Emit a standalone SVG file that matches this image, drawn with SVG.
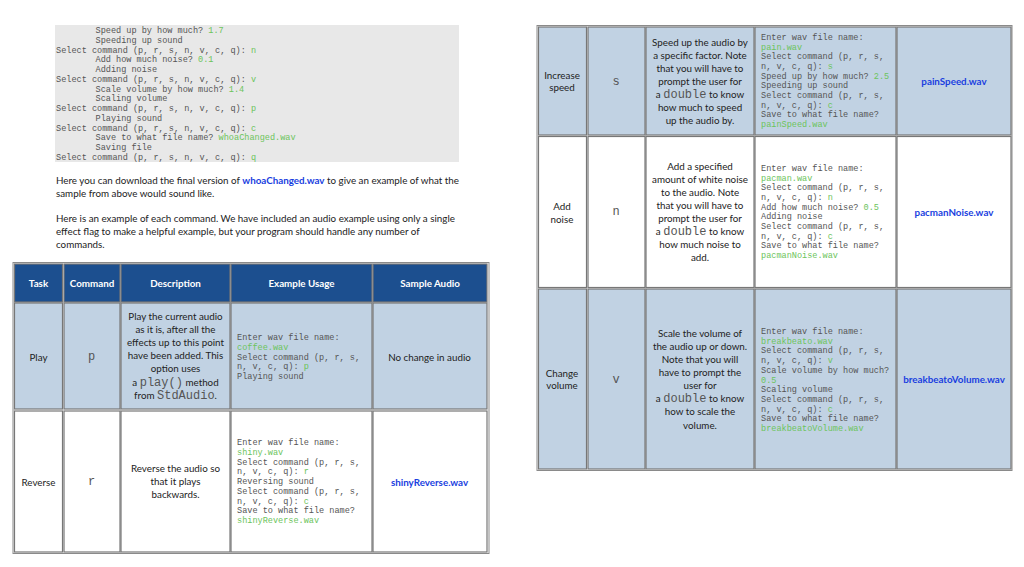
<svg xmlns="http://www.w3.org/2000/svg" width="1024" height="567" viewBox="0 0 1024 567">
<style>
text{font-family:"Lato","Open Sans",sans-serif;font-size:9.8px;fill:#222}
.m{font-family:"Liberation Mono",monospace;font-size:8.55px;fill:#555}
.g{fill:#6cc45c}
.c{text-anchor:middle}
.cm{font-family:"Liberation Mono",monospace;font-size:12px;fill:#555}
.l{fill:#1a3fe0;font-weight:700}
.h{fill:#fff;font-weight:700;text-anchor:middle}
.o{fill:none;stroke:#8a8a8a;stroke-width:1}
.b{fill:#c1d2e3;stroke:#777;stroke-width:1.2}
.w{fill:#fff;stroke:#777;stroke-width:1.2}
.d{fill:#1c4f8f;stroke:#777;stroke-width:1.2}
</style>
<rect width="1024" height="567" fill="#fff"/>
<g id="console">
<rect x="55" y="25" width="404" height="137" fill="#e8e8e8"/>
<text class="m" xml:space="preserve"><tspan x="95.5" y="33">Speed up by how much? <tspan class="g">1.7</tspan></tspan><tspan x="95.5" y="42.8">Speeding up sound</tspan><tspan x="56" y="52.5">Select command (p, r, s, n, v, c, q): <tspan class="g">n</tspan></tspan><tspan x="95.5" y="62.3">Add how much noise? <tspan class="g">0.1</tspan></tspan><tspan x="95.5" y="72">Adding noise</tspan><tspan x="56" y="81.8">Select command (p, r, s, n, v, c, q): <tspan class="g">v</tspan></tspan><tspan x="95.5" y="91.6">Scale volume by how much? <tspan class="g">1.4</tspan></tspan><tspan x="95.5" y="101.3">Scaling volume</tspan><tspan x="56" y="111.1">Select command (p, r, s, n, v, c, q): <tspan class="g">p</tspan></tspan><tspan x="95.5" y="120.9">Playing sound</tspan><tspan x="56" y="130.6">Select command (p, r, s, n, v, c, q): <tspan class="g">c</tspan></tspan><tspan x="95.5" y="140.4">Save to what file name? <tspan class="g">whoaChanged.wav</tspan></tspan><tspan x="95.5" y="150.2">Saving file</tspan><tspan x="56" y="160">Select command (p, r, s, n, v, c, q): <tspan class="g">q</tspan></tspan></text>
</g>
<g id="intro">
<text x="56" y="184">Here you can download the final version of <tspan class="l">whoaChanged.wav</tspan> to give an example of what the</text>
<text x="56" y="197">sample from above would sound like.</text>
<text x="56" y="222">Here is an example of each command. We have included an audio example using only a single</text>
<text x="56" y="235">effect flag to make a helpful example, but your program should handle any number of</text>
<text x="56" y="247.500">commands.</text>
</g>
<g id="left-table">
<rect class="o" x="13" y="262.500" width="476" height="291"/>
<g id="row-header">
<rect class="d" x="14.500" y="264" width="48" height="38"/><rect class="d" x="64" y="264" width="56" height="38"/><rect class="d" x="121" y="264" width="109" height="38"/><rect class="d" x="231" y="264" width="141" height="38"/><rect class="d" x="373" y="264" width="114" height="38"/>
<text class="h" x="38.500" y="287">Task</text><text class="h" x="92" y="287">Command</text><text class="h" x="175.500" y="287">Description</text><text class="h" x="301.500" y="287">Example Usage</text><text class="h" x="430" y="287">Sample Audio</text>
</g>
<g id="row-play">
<rect class="b" x="14.500" y="303" width="48" height="106"/><rect class="b" x="64" y="303" width="56" height="106"/><rect class="b" x="121" y="303" width="109" height="106"/><rect class="b" x="231" y="303" width="141" height="106"/><rect class="b" x="373" y="303" width="114" height="106"/>
<text class="c" x="38.500" y="360.500">Play</text>
<text class="c cm" x="91.500" y="360">p</text>
<text class="c" x="175.500"><tspan x="175.500" y="320">Play the current audio</tspan><tspan x="175.500" y="333">as it is, after all the</tspan><tspan x="175.500" y="346">effects up to this point</tspan><tspan x="175.500" y="359">have been added. This</tspan><tspan x="175.500" y="372">option uses</tspan><tspan x="175.500" y="385.500">a <tspan class="cm">play()</tspan> method</tspan><tspan x="175.500" y="399">from <tspan class="cm">StdAudio</tspan>.</tspan></text>
<text class="m"><tspan x="237" y="340">Enter wav file name:</tspan><tspan class="g" x="237" y="349.700">coffee.wav</tspan><tspan x="237" y="359.500">Select command (p, r, s,</tspan><tspan x="237" y="369.200">n, v, c, q): <tspan class="g">p</tspan></tspan><tspan x="237" y="379">Playing sound</tspan></text>
<text class="c" x="429.500" y="360.500">No change in audio</text>
</g>
<g id="row-reverse">
<rect class="w" x="14.500" y="411" width="48" height="141"/><rect class="w" x="64" y="411" width="56" height="141"/><rect class="w" x="121" y="411" width="109" height="141"/><rect class="w" x="231" y="411" width="141" height="141"/><rect class="w" x="373" y="411" width="114" height="141"/>
<text class="c" x="38.500" y="485.500">Reverse</text>
<text class="c cm" x="91.500" y="485">r</text>
<text class="c"><tspan x="175.500" y="472">Reverse the audio so</tspan><tspan x="175.500" y="485">that it plays</tspan><tspan x="175.500" y="498">backwards.</tspan></text>
<text class="m"><tspan x="237" y="445">Enter wav file name:</tspan><tspan class="g" x="237" y="454.700">shiny.wav</tspan><tspan x="237" y="464.500">Select command (p, r, s,</tspan><tspan x="237" y="474.200">n, v, c, q): <tspan class="g">r</tspan></tspan><tspan x="237" y="484">Reversing sound</tspan><tspan x="237" y="493.700">Select command (p, r, s,</tspan><tspan x="237" y="503.500">n, v, c, q): <tspan class="g">c</tspan></tspan><tspan x="237" y="513.200">Save to what file name?</tspan><tspan class="g" x="237" y="523">shinyReverse.wav</tspan></text>
<text class="c l" x="429.500" y="485.500">shinyReverse.wav</text>
</g>
</g>
<g id="right-table">
<rect class="o" x="537" y="25.500" width="475" height="445"/>
<g id="row-speed">
<rect class="b" x="538.500" y="27" width="48" height="108"/><rect class="b" x="588" y="27" width="57" height="108"/><rect class="b" x="646" y="27" width="108" height="108"/><rect class="b" x="755" y="27" width="141" height="108"/><rect class="b" x="897" y="27" width="114" height="108"/>
<text class="c"><tspan x="562" y="78.500">Increase</tspan><tspan x="562" y="91">speed</tspan></text>
<text class="c cm" x="616" y="85">s</text>
<text class="c"><tspan x="700" y="45.500">Speed up the audio by</tspan><tspan x="700" y="58.500">a specific factor. Note</tspan><tspan x="700" y="71.500">that you will have to</tspan><tspan x="700" y="84.500">prompt the user for</tspan><tspan x="700" y="97.500">a <tspan class="cm">double</tspan> to know</tspan><tspan x="700" y="111">how much to speed</tspan><tspan x="700" y="124">up the audio by.</tspan></text>
<text class="m"><tspan x="761" y="40">Enter wav file name:</tspan><tspan class="g" x="761" y="49.700">pain.wav</tspan><tspan x="761" y="59.300">Select command (p, r, s,</tspan><tspan x="761" y="69">n, v, c, q): <tspan class="g">s</tspan></tspan><tspan x="761" y="78.700">Speed up by how much? <tspan class="g">2.5</tspan></tspan><tspan x="761" y="88.300">Speeding up sound</tspan><tspan x="761" y="98">Select command (p, r, s,</tspan><tspan x="761" y="107.700">n, v, c, q): <tspan class="g">c</tspan></tspan><tspan x="761" y="117.300">Save to what file name?</tspan><tspan class="g" x="761" y="127">painSpeed.wav</tspan></text>
<text class="c l" x="954" y="85">painSpeed.wav</text>
</g>
<g id="row-noise">
<rect class="w" x="538.500" y="136.500" width="48" height="151"/><rect class="w" x="588" y="136.500" width="57" height="151"/><rect class="w" x="646" y="136.500" width="108" height="151"/><rect class="w" x="755" y="136.500" width="141" height="151"/><rect class="w" x="897" y="136.500" width="114" height="151"/>
<text class="c"><tspan x="562" y="209.500">Add</tspan><tspan x="562" y="222.500">noise</tspan></text>
<text class="c cm" x="616" y="215">n</text>
<text class="c"><tspan x="700" y="169.500">Add a specified</tspan><tspan x="700" y="182.500">amount of white noise</tspan><tspan x="700" y="195.500">to the audio. Note</tspan><tspan x="700" y="208.500">that you will have to</tspan><tspan x="700" y="221.500">prompt the user for</tspan><tspan x="700" y="234.500">a <tspan class="cm">double</tspan> to know</tspan><tspan x="700" y="248">how much noise to</tspan><tspan x="700" y="261">add.</tspan></text>
<text class="m"><tspan x="761" y="171">Enter wav file name:</tspan><tspan class="g" x="761" y="180.700">pacman.wav</tspan><tspan x="761" y="190.300">Select command (p, r, s,</tspan><tspan x="761" y="200">n, v, c, q): <tspan class="g">n</tspan></tspan><tspan x="761" y="209.700">Add how much noise? <tspan class="g">0.5</tspan></tspan><tspan x="761" y="219.300">Adding noise</tspan><tspan x="761" y="229">Select command (p, r, s,</tspan><tspan x="761" y="238.700">n, v, c, q): <tspan class="g">c</tspan></tspan><tspan x="761" y="248.300">Save to what file name?</tspan><tspan class="g" x="761" y="258">pacmanNoise.wav</tspan></text>
<text class="c l" x="954" y="216">pacmanNoise.wav</text>
</g>
<g id="row-volume">
<rect class="b" x="538.500" y="289" width="48" height="180"/><rect class="b" x="588" y="289" width="57" height="180"/><rect class="b" x="646" y="289" width="108" height="180"/><rect class="b" x="755" y="289" width="141" height="180"/><rect class="b" x="897" y="289" width="114" height="180"/>
<text class="c"><tspan x="562" y="376.500">Change</tspan><tspan x="562" y="389">volume</tspan></text>
<text class="c cm" x="616" y="383">v</text>
<text class="c"><tspan x="700" y="336.500">Scale the volume of</tspan><tspan x="700" y="349.500">the audio up or down.</tspan><tspan x="700" y="362.500">Note that you will</tspan><tspan x="700" y="375.500">have to prompt the</tspan><tspan x="700" y="388.500">user for</tspan><tspan x="700" y="402">a <tspan class="cm">double</tspan> to know</tspan><tspan x="700" y="415">how to scale the</tspan><tspan x="700" y="428.500">volume.</tspan></text>
<text class="m"><tspan x="761" y="334">Enter wav file name:</tspan><tspan class="g" x="761" y="343.700">breakbeato.wav</tspan><tspan x="761" y="353.400">Select command (p, r, s,</tspan><tspan x="761" y="363.100">n, v, c, q): <tspan class="g">v</tspan></tspan><tspan x="761" y="372.800">Scale volume by how much?</tspan><tspan class="g" x="761" y="382.500">0.5</tspan><tspan x="761" y="392.200">Scaling volume</tspan><tspan x="761" y="401.900">Select command (p, r, s,</tspan><tspan x="761" y="411.600">n, v, c, q): <tspan class="g">c</tspan></tspan><tspan x="761" y="421.300">Save to what file name?</tspan><tspan class="g" x="761" y="431">breakbeatoVolume.wav</tspan></text>
<text class="c l" x="954" y="382.500">breakbeatoVolume.wav</text>
</g>
</g>
</svg>
